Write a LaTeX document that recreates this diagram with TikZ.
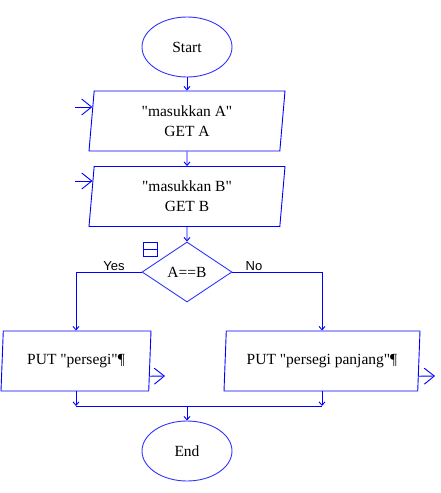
\documentclass[tikz,border=0pt]{standalone}
\usepackage{fontspec}
\setmainfont{Liberation Serif}[Ligatures=TeXOff]
\newfontfamily\labfont{Liberation Sans}
\usetikzlibrary{shapes.geometric,arrows.meta,calc}
\definecolor{lineblue}{RGB}{0,0,255}
\definecolor{shapeblue}{RGB}{50,50,255}
\tikzset{
  every node/.style={font=\fontsize{15.5}{20}\selectfont},
  term/.style={ellipse, draw=shapeblue, line width=0.9pt, minimum width=90pt, minimum height=60pt, inner sep=0pt},
  iobox/.style={trapezium, trapezium left angle=80.5, trapezium right angle=99.5, trapezium stretches body=true,
     draw=lineblue, line width=0.9pt, minimum height=60pt, inner sep=0pt, align=center},
  decide/.style={diamond, draw=shapeblue, line width=0.9pt, minimum width=90pt, minimum height=60pt, inner sep=0pt, aspect=1.5},
  flow/.style={draw=lineblue, line width=0.9pt, -{Straight Barb[length=3.5pt,width=6pt]}},
  plain/.style={draw=lineblue, line width=0.9pt},
  entry/.style={draw=lineblue, line width=0.9pt, -{Straight Barb[length=10pt,width=16pt]}},
  branchlab/.style={font=\labfont\fontsize{13}{15}\selectfont, inner sep=0pt}
}
\begin{document}
\begin{tikzpicture}[x=1pt,y=-1pt]
\useasboundingbox (0,0) rectangle (440,493);
\node[term] (start) at (187,47) {Start};
\node[iobox, minimum width=196pt] (A) at (187,121) {"masukkan A"\\GET A};
\node[iobox, minimum width=196pt] (B) at (187,196.5) {"masukkan B"\\GET B};
\node[decide] (D) at (187,272) {A==B};
\node[iobox, minimum width=150pt] (L) at (76,361) {PUT "persegi"¶};
\node[iobox, minimum width=196pt] (R) at (322,361) {PUT "persegi panjang"¶};
\node[term] (end) at (187,451) {End};

\draw[flow] (start) -- (A);
\draw[flow] (A) -- (B);
\draw[flow] (B) -- (D);
\draw[flow] (D.west) -| (L.north);
\draw[flow] (D.east) -| (R.north);
\node[branchlab] (yes) at (114,266) {Yes};
\node[branchlab] (no) at (254,266) {No};

% entry arrows
\coordinate (ina) at (75,107);
\coordinate (inb) at (75,181);
\draw[entry] (ina) -- (ina -| {$(A.top left corner)!0.27!(A.bottom left corner)$});
\draw[entry] (inb) -- (inb -| {$(B.top left corner)!0.24!(B.bottom left corner)$});

% output arrows
\coordinate (outl) at (165,376);
\coordinate (outr) at (435,376);
\draw[entry] ($(L.top right corner)!0.75!(L.bottom right corner)$) -- (outl);
\draw[entry] ($(R.top right corner)!0.75!(R.bottom right corner)$) -- (outr);

% merge
\coordinate (ml) at (L.south |- 0,406);
\coordinate (mr) at (R.south |- 0,406);
\coordinate (mc) at (187,406);
\draw[flow] (L.south) -- (ml);
\draw[flow] (R.south) -- (mr);
\draw[plain] (ml) -- (mr);
\draw[flow] (mc) -- (end);

% small icon
\draw[lineblue, line width=0.9pt] (143,242) rectangle (157,256);
\draw[lineblue, line width=0.9pt] (143,249) -- (157,249);
\end{tikzpicture}
\end{document}
